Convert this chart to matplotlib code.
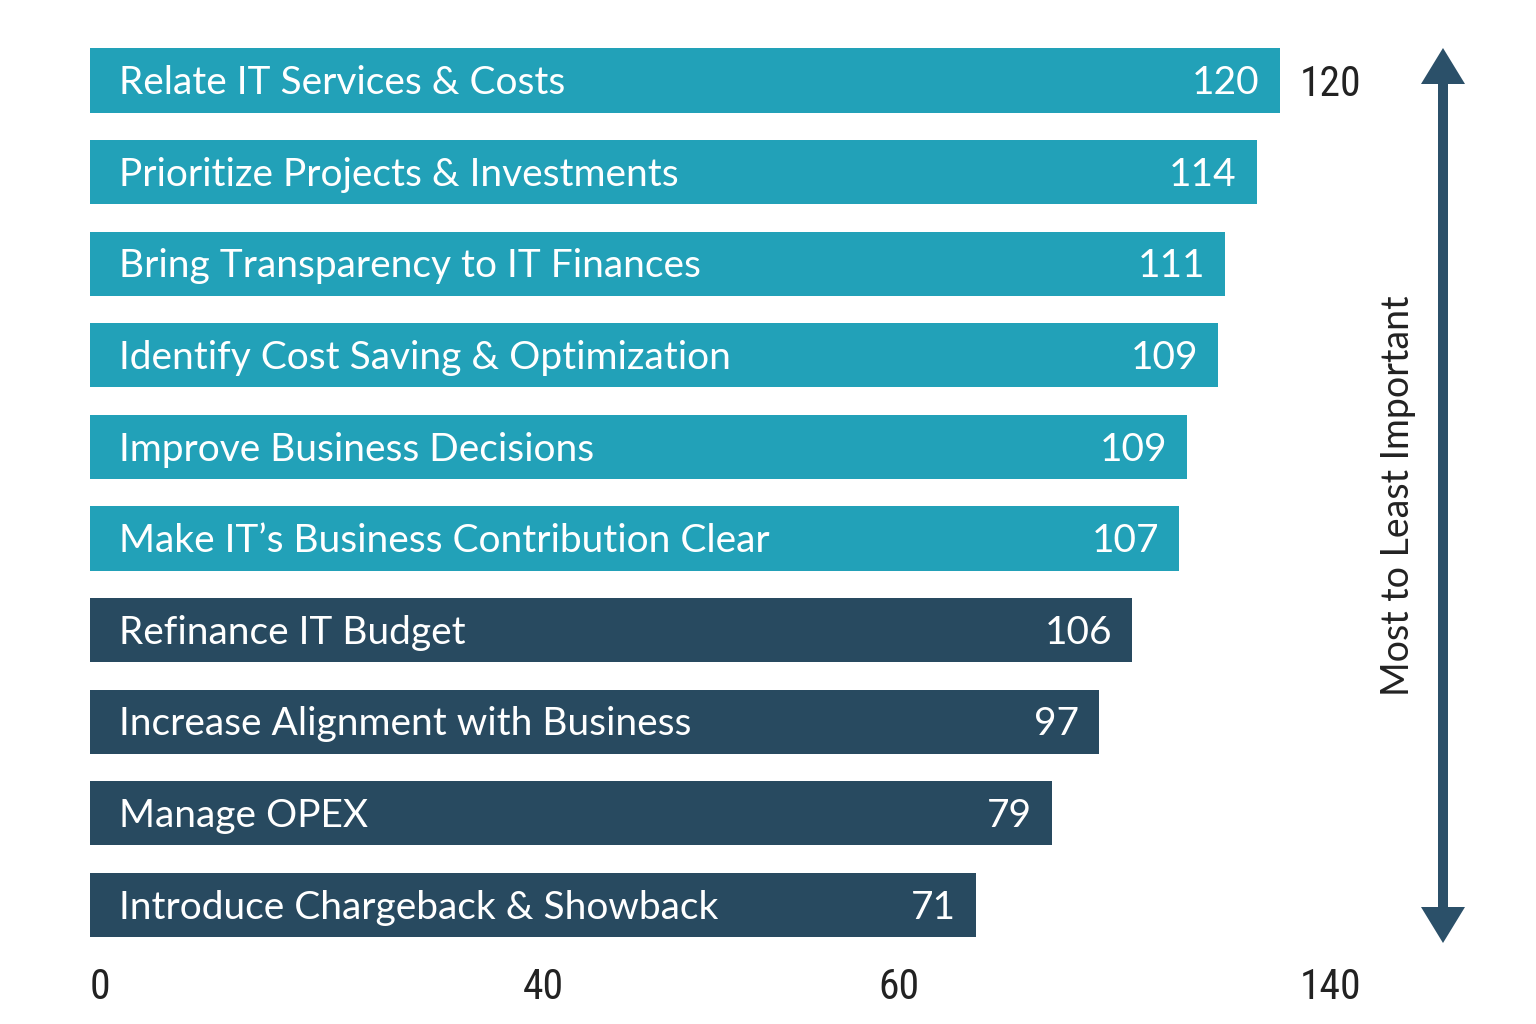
import numpy as np
import matplotlib
matplotlib.use("Agg")
import matplotlib.pyplot as plt
from matplotlib.patches import Polygon
from matplotlib import font_manager as fm

# ---------------- data ----------------
categories = [
    "Relate IT Services & Costs",
    "Prioritize Projects & Investments",
    "Bring Transparency to IT Finances",
    "Identify Cost Saving & Optimization",
    "Improve Business Decisions",
    "Make IT\u2019s Business Contribution Clear",
    "Refinance IT Budget",
    "Increase Alignment with Business",
    "Manage OPEX",
    "Introduce Chargeback & Showback",
]
value_labels = [120, 114, 111, 109, 109, 107, 106, 97, 79, 71]
# bar lengths as drawn in the picture, read against the (non-linear) axis
bar_lengths = [136.2, 131.8, 125.8, 124.5, 118.6, 117.1, 108.2, 101.9, 93.0, 78.6]
groups = ["top"] * 6 + ["rest"] * 4
tick_values = [0, 40, 60, 140]
outside_label = {0: 120}

# ---------------- style ----------------
W, H = 1536, 1024
TEAL = "#22A1B8"
NAVY = "#284A60"
ARROW = "#2B5069"
DARK = "#222222"
colors = {"top": TEAL, "rest": NAVY}

# pick a condensed face for the axis numbers if available
names = {f.name for f in fm.fontManager.ttflist}
cond = None
for cand in ["Liberation Sans Narrow", "DejaVu Sans Condensed", "Roboto Condensed", "Open Sans Condensed"]:
    if cand in names:
        cond = cand
        break
num_family = [cond, "DejaVu Sans"] if cond else ["Open Sans", "DejaVu Sans"]
num_size = 30 if cond else 25

# axis anchors (figure pixels) of the tick values
anchor_px = np.array([90.0, 523.0, 878.0, 1300.0])
tv = np.array(tick_values, float)
s0 = (anchor_px[1] - anchor_px[0]) / (tv[1] - tv[0])
s1 = (anchor_px[-1] - anchor_px[-2]) / (tv[-1] - tv[-2])


def fwd(v):
    v = np.asarray(v, float)
    out = np.interp(v, tv, anchor_px)
    out = np.where(v < tv[0], anchor_px[0] + (v - tv[0]) * s0, out)
    out = np.where(v > tv[-1], anchor_px[-1] + (v - tv[-1]) * s1, out)
    return out


def inv(p):
    p = np.asarray(p, float)
    out = np.interp(p, anchor_px, tv)
    out = np.where(p < anchor_px[0], tv[0] + (p - anchor_px[0]) / s0, out)
    out = np.where(p > anchor_px[-1], tv[-1] + (p - anchor_px[-1]) / s1, out)
    return out


plt.rcParams["font.family"] = ["Lato", "DejaVu Sans"]
fig = plt.figure(figsize=(W / 100, H / 100), dpi=100)
fig.patch.set_facecolor("white")

ax_bottom_px = 950.0
ax = fig.add_axes([0, 1 - ax_bottom_px / H, 1, ax_bottom_px / H])
ax.set_xscale("function", functions=(fwd, inv))
ax.set_xlim(float(inv(0.0)), float(inv(float(W))))

first_c, pitch = 80.5, 91.6
ax.set_ylim((ax_bottom_px - first_c) / pitch, -first_c / pitch)

y = np.arange(len(categories))
ax.barh(y, bar_lengths, height=0.70, left=0,
        color=[colors[g] for g in groups], edgecolor="none")

base_off = -9.8  # points below bar centre to text baseline
for i, (cat, val, L) in enumerate(zip(categories, value_labels, bar_lengths)):
    ax.annotate(cat, (0, i), xytext=(21, base_off), textcoords="offset points",
                ha="left", va="baseline", color="white", fontsize=28)
    ax.annotate(str(val), (L, i), xytext=(-14.5, base_off), textcoords="offset points",
                ha="right", va="baseline", color="white", fontsize=28)
for i, val in outside_label.items():
    ax.annotate(str(val), (bar_lengths[i], i), xytext=(14.4, base_off - 1),
                textcoords="offset points", ha="left", va="baseline",
                color=DARK, fontsize=num_size, family=num_family)

ax.set_xticks(tick_values)
ax.set_xticklabels([str(t) for t in tick_values], ha="left",
                   family=num_family, fontsize=num_size, color=DARK)
ax.tick_params(axis="x", length=0, pad=12)
ax.set_yticks([])
for s in ax.spines.values():
    s.set_visible(False)
ax.patch.set_alpha(0)

# double-headed arrow (decoration)
cx, top, bot = 1443.0, 48.0, 943.0
hw, sw, hl = 22.0, 5.0, 36.0
pts_px = [
    (cx, top), (cx + hw, top + hl), (cx + sw, top + hl), (cx + sw, bot - hl),
    (cx + hw, bot - hl), (cx, bot), (cx - hw, bot - hl), (cx - sw, bot - hl),
    (cx - sw, top + hl), (cx - hw, top + hl),
]
pts = [(x / W, 1 - yy / H) for x, yy in pts_px]
fig.patches.append(Polygon(pts, closed=True, transform=fig.transFigure,
                           facecolor=ARROW, edgecolor="none"))

fig.text(1398 / W, 1 - 496 / H, "Most to Least Important", rotation=90,
         ha="center", va="center", fontsize=27, color=DARK)

fig.savefig("out.png", dpi=100)
